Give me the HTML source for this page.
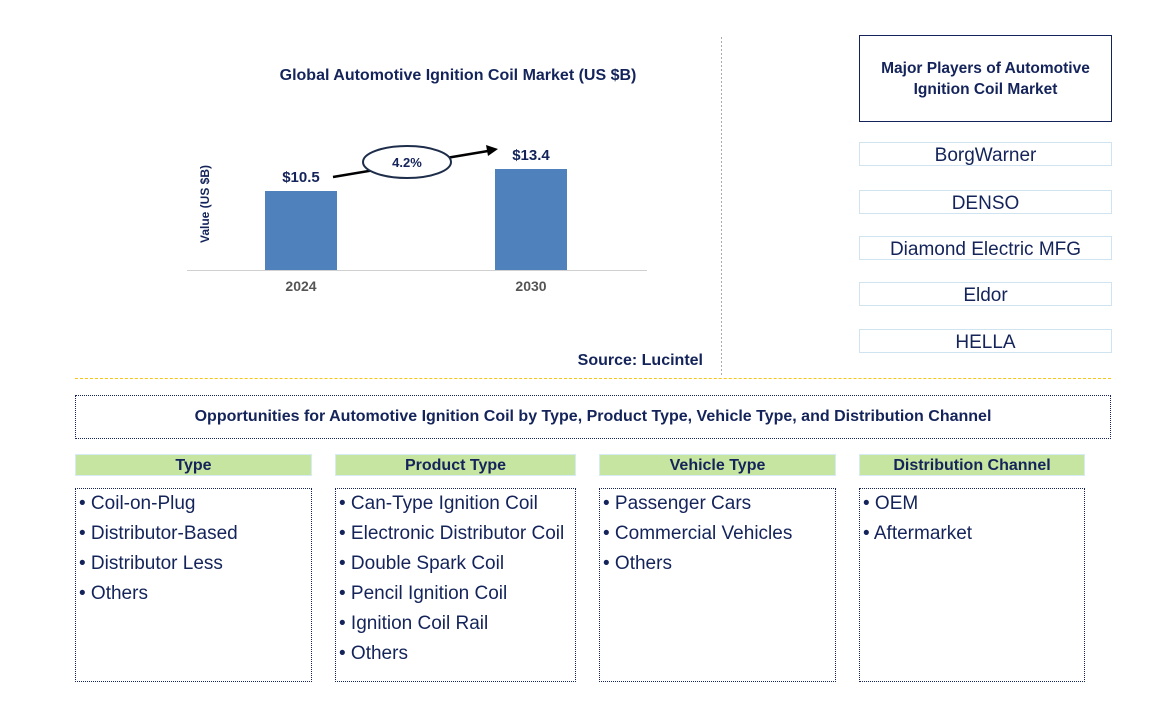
<!DOCTYPE html>
<html><head><style>
body{margin:0;width:1176px;height:722px;background:#fff;font-family:"Liberation Sans",Arial,sans-serif;color:#14245a;position:relative;overflow:hidden}
.a{position:absolute}
.b{font-weight:bold}
.pl{position:absolute;left:859px;width:251px;height:22px;border:1px solid #cfe3f1;text-align:center;font-size:19px;line-height:25px}
.h{position:absolute;top:454px;height:22px;background:#c5e5a0;border:1px solid #d6ecf5;text-align:center;font-weight:bold;font-size:16px;line-height:22px;box-sizing:border-box}
.l{position:absolute;top:488px;height:194px;border:1px dotted #14245a;box-sizing:border-box;font-size:19px;padding:0 0 0 3px;line-height:30px}
</style></head><body>
<div class="a b" style="left:150px;width:616px;top:67px;text-align:center;font-size:16px">Global Automotive Ignition Coil Market (US $B)</div>
<div class="a b" style="left:145px;top:197px;width:120px;text-align:center;font-size:12px;transform:rotate(-90deg)">Value (US $B)</div>
<svg class="a" style="left:0;top:0" width="722" height="380">
<rect x="265" y="191" width="72" height="79" fill="#4f81bd"/>
<rect x="495" y="169" width="72" height="101" fill="#4f81bd"/>
<line x1="187" y1="270.5" x2="647" y2="270.5" stroke="#d0d0d0"/>
<line x1="333" y1="177" x2="488" y2="151" stroke="#000" stroke-width="2.5"/>
<polygon points="498,149 486,145 488,156" fill="#000"/>
<ellipse cx="407" cy="162" rx="44" ry="16" fill="#fff" stroke="#1d2d4a" stroke-width="2"/>
<text x="407" y="167" text-anchor="middle" font-size="13" font-weight="bold" fill="#14245a" font-family="Liberation Sans">4.2%</text>
<text x="301" y="182" text-anchor="middle" font-size="15" font-weight="bold" fill="#14245a" font-family="Liberation Sans">$10.5</text>
<text x="531" y="160" text-anchor="middle" font-size="15" font-weight="bold" fill="#14245a" font-family="Liberation Sans">$13.4</text>
<text x="301" y="291" text-anchor="middle" font-size="14" font-weight="bold" fill="#555" font-family="Liberation Sans">2024</text>
<text x="531" y="291" text-anchor="middle" font-size="14" font-weight="bold" fill="#555" font-family="Liberation Sans">2030</text>
<line x1="721.5" y1="37" x2="721.5" y2="375" stroke="#aaa" stroke-dasharray="2,2"/>
</svg>
<div class="a b" style="right:473px;top:352px;font-size:16px">Source: Lucintel</div>
<div class="a b" style="left:859px;top:35px;width:251px;height:85px;border:1px solid #14245a;font-size:15.5px;text-align:center;display:flex;align-items:center;justify-content:center;line-height:21px">Major Players of Automotive<br>Ignition Coil Market</div>
<div class="pl" style="top:142px">BorgWarner</div>
<div class="pl" style="top:190px">DENSO</div>
<div class="pl" style="top:236px">Diamond Electric MFG</div>
<div class="pl" style="top:282px">Eldor</div>
<div class="pl" style="top:329px">HELLA</div>
<div class="a" style="left:75px;top:378px;width:1036px;border-top:1px dashed #f5c518"></div>
<div class="a b" style="left:75px;top:395px;width:1036px;height:44px;border:1px dotted #14245a;box-sizing:border-box;text-align:center;line-height:42px;font-size:16px">Opportunities for Automotive Ignition Coil by Type, Product Type, Vehicle Type, and Distribution Channel</div>
<div class="h" style="left:75px;width:237px">Type</div>
<div class="h" style="left:335px;width:241px">Product Type</div>
<div class="h" style="left:599px;width:237px">Vehicle Type</div>
<div class="h" style="left:859px;width:226px">Distribution Channel</div>
<div class="l" style="left:75px;width:237px">• Coil-on-Plug<br>• Distributor-Based<br>• Distributor Less<br>• Others</div>
<div class="l" style="left:335px;width:241px">• Can-Type Ignition Coil<br>• Electronic Distributor Coil<br>• Double Spark Coil<br>• Pencil Ignition Coil<br>• Ignition Coil Rail<br>• Others</div>
<div class="l" style="left:599px;width:237px">• Passenger Cars<br>• Commercial Vehicles<br>• Others</div>
<div class="l" style="left:859px;width:226px">• OEM<br>• Aftermarket</div>
</body></html>
